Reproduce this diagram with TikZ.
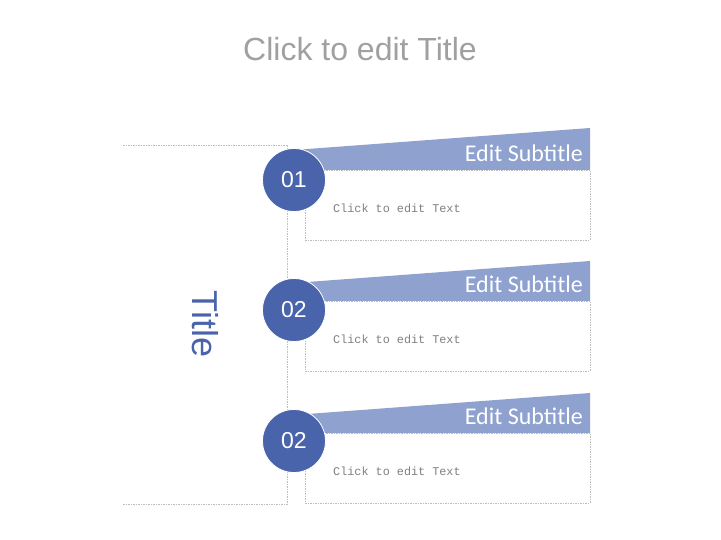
\documentclass[tikz,border=0pt]{standalone}
\usepackage{fontspec}
\setmainfont{Liberation Sans}
\newfontfamily\subfont{Carlito}
\newfontfamily\monofont{Liberation Mono}
\definecolor{circblue}{HTML}{4A64AC}
\definecolor{bandblue}{HTML}{8EA1CF}
\definecolor{titlegray}{HTML}{A0A0A0}
\definecolor{linegray}{HTML}{BDBDBD}
\definecolor{textgray}{HTML}{7F7F7F}
\tikzset{
  numcirc/.style={circle, fill=circblue, draw=white, line width=0.8pt, minimum size=63pt, inner sep=0pt,
    text=white, font=\fontsize{23}{23}\selectfont},
  guide/.style={draw=linegray, line width=0.6pt, dash pattern=on 1.5pt off 1pt},
  band/.style={fill=bandblue, draw=none},
  subtitle/.style={anchor=east, text=white, font=\subfont\fontsize{24}{24}\selectfont, inner sep=0pt},
  bodytext/.style={anchor=west, text=textgray, font=\monofont\fontsize{11.8}{11.8}\selectfont, inner sep=0pt}
}
\begin{document}
\begin{tikzpicture}[x=1pt,y=-1pt]
\useasboundingbox (0,0) rectangle (721,540);
% title
\node[text=titlegray, font=\fontsize{32}{32}\selectfont] (title) at (360,49) {Click to edit Title};
% left frame
\coordinate (ftl) at (123,145);
\coordinate (ftr) at (287,145);
\coordinate (fbr) at (287,504);
\coordinate (fbl) at (123,504);
\draw[guide] (ftl) -- (ftr) -- (fbr) -- (fbl);
\node[rotate=-90, text=circblue, font=\fontsize{36}{36}\selectfont] (side) at (205,324) {Title};
% panels
\foreach \n/\yt/\yb/\cy/\lab in {1/128/170/180/01, 2/261/301/310/02, 3/393/433/441/02}{
  \fill[band] (294,{\yt+22}) -- (590,\yt) -- (590,\yb) -- (294,\yb) -- cycle;
  \node[subtitle] (sub\n) at (583,{\yb-17}) {Edit Subtitle};
  \draw[guide] (305,\yb) rectangle (590,{\yb+70});
  \node[bodytext] (body\n) at (333,{\yb+38}) {Click to edit Text};
  \node[numcirc] (c\n) at (294,\cy) {\lab};
}
\end{tikzpicture}
\end{document}
